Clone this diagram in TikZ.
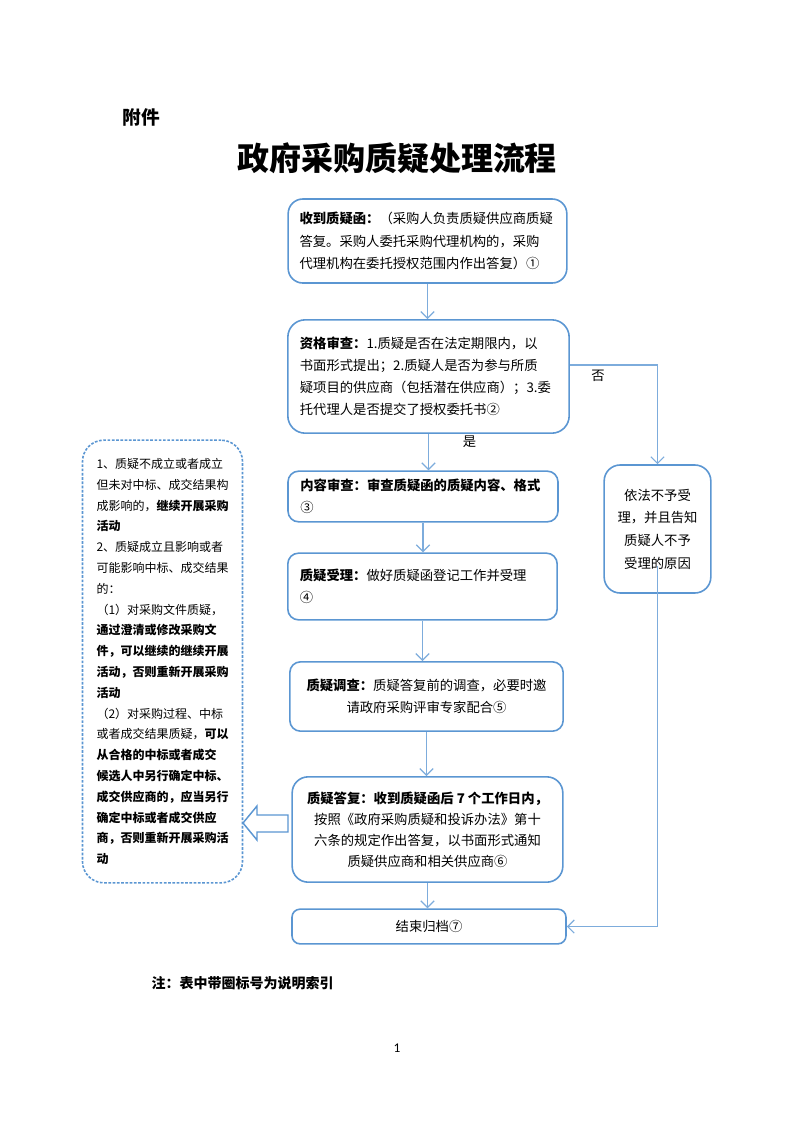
\documentclass[tikz,border=0pt]{standalone}
\usepackage{fontspec}
\setmainfont{Noto Sans CJK SC}
\newfontfamily\pagefont{Carlito}
\usetikzlibrary{arrows.meta}

\begin{document}
\begin{tikzpicture}[x=0.75pt, y=-0.75pt]

\definecolor{boxblue}{RGB}{91,150,210}
\definecolor{lineblue}{RGB}{125,172,220}
\tikzset{
  stepbox/.style={draw=boxblue, line width=1.2pt, rounded corners=8pt, inner sep=0pt,
    font=\fontsize{10}{16.5}\selectfont},
  flow/.style={draw=lineblue, line width=0.9pt, -{Straight Barb[length=5pt, width=10pt]}},
}
\useasboundingbox (0,0) rectangle (793,1122);

\node[font=\fontsize{14}{16}\selectfont\bfseries] (attach) at (141,117) {附件};
\node[font=\fontsize{24}{28}\selectfont\bfseries] (title) at (397,158) {政府采购质疑处理流程};

\node[stepbox, rounded corners=11pt, minimum width=209pt, minimum height=63pt, text width=192pt, align=left, font=\fontsize{10}{17}\selectfont] (receive) at (427.5,241)
  {{\bfseries 收到质疑函：}（采购人负责质疑供应商质疑\\答复。采购人委托采购代理机构的，采购\\代理机构在委托授权范围内作出答复）①};

\node[stepbox, rounded corners=13pt, minimum width=211pt, minimum height=85pt, text width=193pt, align=left] (qualify) at (428.5,376.5)
  {{\bfseries 资格审查：}1.质疑是否在法定期限内，以\\书面形式提出；2.质疑人是否为参与所质\\疑项目的供应商（包括潜在供应商）；3.委\\托代理人是否提交了授权委托书②};

\node[stepbox, minimum width=202.5pt, minimum height=38pt, text width=184pt, align=left] (content) at (423,496.5)
  {{\bfseries 内容审查：审查质疑函的质疑内容、格式}\\③};

\node[stepbox, minimum width=202pt, minimum height=50pt, text width=184pt, align=left] (accept) at (422.5,586.5)
  {{\bfseries 质疑受理：}做好质疑函登记工作并受理\\④};

\node[stepbox, minimum width=205pt, minimum height=52pt, align=center] (survey) at (426.5,696.5)
  {{\bfseries 质疑调查：}质疑答复前的调查，必要时邀\\请政府采购评审专家配合⑤};

\node[stepbox, rounded corners=12pt, minimum width=203pt, minimum height=79pt, align=center, font=\fontsize{10}{15.8}\selectfont] (reply) at (427.5,829.5)
  {{\bfseries 质疑答复：收到质疑函后 7 个工作日内，}\\按照《政府采购质疑和投诉办法》第十\\六条的规定作出答复，以书面形式通知\\质疑供应商和相关供应商⑥};

\node[stepbox, rounded corners=6pt, minimum width=205.5pt, minimum height=26pt] (archive) at (429,926.5) {结束归档⑦};

\node[stepbox, rounded corners=12pt, minimum width=80pt, minimum height=96pt, align=center, font=\fontsize{10}{17}\selectfont] (reject) at (657.5,529)
  {依法不予受\\理，并且告知\\质疑人不予\\受理的原因};

\node[stepbox, dashed, dash pattern=on 2pt off 1.2pt, rounded corners=16pt, minimum width=120pt, minimum height=332pt, align=left, font=\fontsize{9}{15.6}\selectfont] (note) at (162.5,661.5)
  {1、质疑不成立或者成立\\但未对中标、成交结果构\\成影响的，{\bfseries 继续开展采购}\\{\bfseries 活动}\\2、质疑成立且影响或者\\可能影响中标、成交结果\\的：\\（1）对采购文件质疑，\\{\bfseries 通过澄清或修改采购文}\\{\bfseries 件，可以继续的继续开展}\\{\bfseries 活动，否则重新开展采购}\\{\bfseries 活动}\\（2）对采购过程、中标\\或者成交结果质疑，{\bfseries 可以}\\{\bfseries 从合格的中标或者成交}\\{\bfseries 候选人中另行确定中标、}\\{\bfseries 成交供应商的，应当另行}\\{\bfseries 确定中标或者成交供应}\\{\bfseries 商，否则重新开展采购活}\\{\bfseries 动}};

\draw[flow] (receive.south) -- (receive.south |- qualify.north);
\draw[flow] (qualify.south) -- node[pos=0.2, right, xshift=22pt, font=\fontsize{10}{12}\selectfont] {是} (qualify.south |- content.north);
\draw[flow] (content.south) -- (content.south |- accept.north);
\draw[flow] (accept.south) -- (accept.south |- survey.north);
\draw[flow] (survey.south) -- (survey.south |- reply.north);
\draw[flow] (reply.south) -- (reply.south |- archive.north);
\draw[flow] ([yshift=8.6pt]qualify.east) -| node[pos=0.16, below, font=\fontsize{10}{12}\selectfont] {否} (reject.north);
\coordinate (rejectout) at ([yshift=21pt]reject.south);
\draw[flow] (rejectout) |- (archive.east);

\draw[boxblue, line width=1.1pt, fill=white] (243,823) -- (257,806) -- (257,815) -- (288,815) -- (288,832) -- (257,832) -- (257,840) -- cycle;

\node[anchor=west, font=\fontsize{10.5}{12}\selectfont\bfseries] (remark) at (147,983) {注：表中带圈标号为说明索引};
\node[font=\pagefont\fontsize{10}{12}\selectfont] (pagenum) at (397,1048) {1};

\end{tikzpicture}
\end{document}
